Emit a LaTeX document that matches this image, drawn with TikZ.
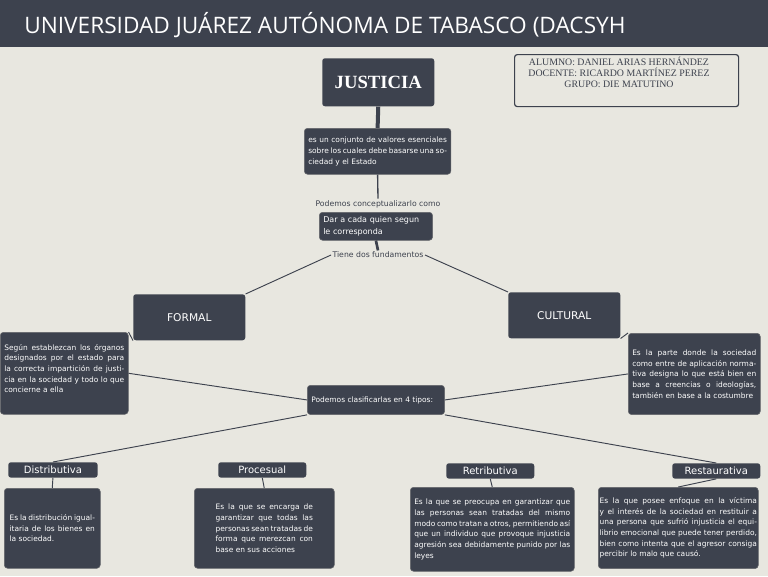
\documentclass[tikz,border=0pt]{standalone}
\usepackage{fontspec}
\setmainfont{DejaVu Sans}
\newfontfamily\titlef{Open Sans}
\newfontfamily\serf{Liberation Serif}
\definecolor{bgc}{HTML}{E8E7E0}
\definecolor{dk}{HTML}{3D424E}
\begin{document}
\begin{tikzpicture}[x=0.75pt,y=-0.75pt,
 box/.style={fill=dk,draw=gray!60!dk,rounded corners=2.5pt,text=white,anchor=north west,inner xsep=3pt,inner ysep=2pt,font=\fontsize{5.6}{8}\selectfont,align=justify},
 hd/.style={fill=dk,rounded corners=2pt,text=white,anchor=north west,inner sep=0pt,font=\fontsize{7.5}{9}\selectfont,align=center},
 lbl/.style={font=\fontsize{5.8}{7}\selectfont,text=dk,inner sep=1pt},
 ln/.style={draw=dk,line width=0.7pt}]
\fill[bgc] (0,0) rectangle (768,576);
\fill[dk] (0,0) rectangle (768,47);
\node[anchor=west,text=white,font=\titlef\fontsize{17}{20}\selectfont,inner sep=0pt] (title) at (24,25) {UNIVERSIDAD JUÁREZ AUTÓNOMA DE TABASCO (DACSYH};
\node[draw=dk,line width=0.9pt,rounded corners=2pt,anchor=north west,minimum width=168pt,minimum height=39pt,inner sep=0pt] (info) at (514,54) {};
\node[anchor=north,text=dk,font=\serf\fontsize{7.4}{8.2}\selectfont,align=center,inner sep=0pt] (infot) at (619,57) {ALUMNO: DANIEL ARIAS HERNÁNDEZ\\DOCENTE: RICARDO MARTÍNEZ PEREZ\\GRUPO: DIE MATUTINO};
\node[hd,minimum width=84pt,minimum height=36pt,font=\serf\bfseries\fontsize{14}{16}\selectfont] (jus) at (322,58) {JUSTICIA};
\node[box,text width=104pt,minimum height=34.5pt] (def) at (304,128) {es un conjunto de valores esenciales sobre los cuales debe basarse una sociedad y el Estado};
\node[lbl] (concep) at (378,204) {Podemos conceptualizarlo como};
\node[box,text width=79pt,minimum height=21pt,font=\fontsize{6}{8.5}\selectfont,align=left] (dar) at (319,212) {Dar a cada quien segun le corresponda};
\node[lbl] (fund) at (378,255) {Tiene dos fundamentos};
\node[hd,minimum width=84pt,minimum height=34.5pt,font=\fontsize{8}{9}\selectfont] (formal) at (133,294) {FORMAL};
\node[hd,minimum width=84pt,minimum height=34.5pt,font=\fontsize{8}{9}\selectfont] (cult) at (508,292) {CULTURAL};
\node[box,text width=90pt,minimum height=61.5pt] (ftx) at (0,332) {Según establezcan los órganos designados por el estado para la correcta impartición de justicia en la sociedad y todo lo que concierne a ella\par\vspace{7pt}};
\node[box,text width=93pt,minimum height=61pt] (ctx) at (628,333) {Es la parte donde la sociedad como entre de aplicación normativa designa lo que está bien en base a creencias o ideologías, también en base a la costumbre};
\node[box,text width=97pt,minimum height=22pt] (clas) at (307,385) {Podemos clasificarlas en 4 tipos:};
\node[hd,minimum width=67pt,minimum height=11.5pt] (dis) at (8,462) {Distributiva};
\node[hd,minimum width=66pt,minimum height=11.5pt] (pro) at (218,462) {Procesual};
\node[hd,minimum width=66pt,minimum height=11.5pt] (ret) at (446,463) {Retributiva};
\node[hd,minimum width=66pt,minimum height=11.5pt] (res) at (672,463) {Restaurativa};
\node[box,text width=64pt,minimum height=60pt,inner xsep=4pt] (dtx) at (4,488) {Es la distribución igualitaria de los bienes en la sociedad.};
\node[box,text width=73pt,minimum height=60pt,inner xsep=16pt] (ptx) at (194,488) {Es la que se encarga de garantizar que todas las personas sean tratadas de forma que merezcan con base en sus acciones};
\node[box,text width=117pt,minimum height=63pt] (rtx) at (410,487) {Es la que se preocupa en garantizar que las personas sean tratadas del mismo modo como tratan a otros, permitiendo así que un individuo que provoque injusticia agresión sea debidamente punido por las leyes};
\node[box,text width=118pt,minimum height=61pt,inner xsep=1pt] (stx) at (598,487) {Es la que posee enfoque en la víctima y el interés de la sociedad en restituir a una persona que sufrió injusticia el equilibrio emocional que puede tener perdido, bien como intenta que el agresor consiga percibir lo malo que causó.};
% connectors
\draw[draw=dk,line width=3pt] (jus.south) -- (def.north);
\draw[ln,line width=1pt] (def.south) -- (concep.north);
\draw[ln,line width=2pt] (dar.south) -- (fund.north);
\draw[ln] (fund.west) -- (formal.north east);
\draw[ln] (fund.east) -- (cult.north west);
\draw[ln] (formal.south west) -- (ftx.north east);
\draw[ln] (cult.south east) -- (ctx.north west);
\draw[ln] (ftx.east) -- (clas.west);
\draw[ln] (ctx.west) -- (clas.east);
\draw[ln] (clas.south west) -- (dis.north);
\draw[ln] (clas.south east) -- (res.north);
\draw[ln] (dis.south) -- (dtx.north);
\draw[ln] (pro.south) -- (ptx.north);
\draw[ln] (ret.south) -- (rtx.north);
\draw[ln] (res.south) -- (stx.north);
\end{tikzpicture}
\end{document}
